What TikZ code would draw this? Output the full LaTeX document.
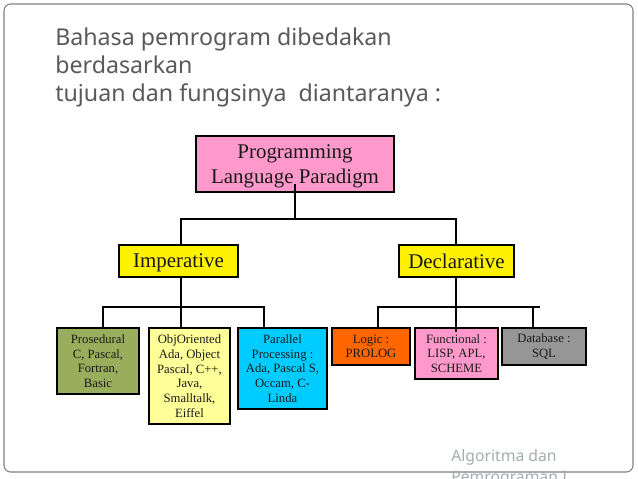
\documentclass[tikz,border=0pt]{standalone}
\usepackage{fontspec}
\setmainfont{Liberation Serif}
\newfontfamily\slidefont{Noto Sans}
\definecolor{slidegray}{HTML}{595959}
\definecolor{footgray}{HTML}{A3ADB0}
\definecolor{rootpink}{HTML}{FF99CC}
\definecolor{prosgreen}{HTML}{99AE5C}
\definecolor{objyellow}{HTML}{FFFF99}
\definecolor{parcyan}{HTML}{00CCFF}
\definecolor{logicorange}{HTML}{FF6600}
\definecolor{dbgray}{HTML}{969696}
\tikzset{
  paradigm/.style={draw=black, line width=1.5pt, inner sep=0pt, align=center, text=black!90},
  headbox/.style={paradigm, text depth=0pt, font=\fontsize{15.7}{18.5}\selectfont},
  leafbox/.style={paradigm, font=\fontsize{9.5}{11}\selectfont},
  link/.style={draw=black, line width=1.5pt},
  slidetext/.style={anchor=north west, inner sep=0pt, align=left}
}
\begin{document}
\begin{tikzpicture}[x=0.75pt, y=-0.75pt]
    \useasboundingbox (0, 0) rectangle (638, 478);
        \draw[gray, line width=0.8pt, rounded corners=5pt] (4, 4) rectangle (633, 472);
        \node[slidetext, text=slidegray, font=\slidefont\fontsize{17.4}{21}\selectfont] (title) at (55, 28)
            {Bahasa pemrogram dibedakan\\berdasarkan\\tujuan dan fungsinya\ \ diantaranya :};
        \node[slidetext, text=footgray, font=\slidefont\fontsize{11.8}{16}\selectfont] (foot) at (451, 449)
            {Algoritma dan\\Pemrograman I};
        %
        \node[headbox, fill=rootpink, minimum width=148.5pt, minimum height=42pt] (root) at (295, 164)
            {Programming\\Language Paradigm};
        \node[headbox, fill=yellow, minimum width=89.25pt, minimum height=24pt] (imper) at (178.5, 261) {Imperative};
        \node[headbox, fill=yellow, minimum width=86.25pt, minimum height=24pt] (decl) at (456.5, 261) {Declarative};
        %
        \node[leafbox, fill=prosgreen, minimum width=61.5pt, minimum height=49.5pt] (pros) at (98, 361)
            {Prosedural\\C, Pascal,\\Fortran,\\Basic};
        \node[leafbox, fill=objyellow, minimum width=60.75pt, minimum height=72pt] (objor) at (189.5, 376)
            {ObjOriented\\Ada, Object\\Pascal, C++,\\Java,\\Smalltalk,\\Eiffel};
        \node[leafbox, fill=parcyan, minimum width=66.75pt, minimum height=60.75pt] (par) at (282.5, 368.5)
            {Parallel\\Processing :\\Ada, Pascal S,\\Occam, C-\\Linda};
        \node[leafbox, fill=logicorange, minimum width=58.5pt, minimum height=27.75pt] (logic) at (371, 346.5)
            {Logic :\\PROLOG};
        \node[leafbox, fill=rootpink, minimum width=62.25pt, minimum height=38.25pt] (func) at (456.5, 353.5)
            {Functional :\\LISP, APL,\\SCHEME};
        \node[leafbox, fill=dbgray, minimum width=63pt, minimum height=27.75pt] (db) at (544, 346.5)
            {Database :\\SQL};
        %
        \coordinate (topL) at (181, 219);
        \coordinate (topR) at (456, 219);
        \coordinate (lowL) at (103, 307);
        \coordinate (lowM) at (181, 307);
        \coordinate (lowN) at (264, 307);
        \coordinate (lowP) at (378, 307);
        \coordinate (lowQ) at (456, 307);
        \coordinate (lowR) at (533, 307);
        \coordinate (lowE) at (540, 307);
        %
        \draw[link] ([yshift=6.5pt]root.south) -- (root.south |- topL);
        \draw[link] (topL |- imper.north) -- (topL) -- (topR) -- (topR |- decl.north);
        \draw[link] (lowM |- imper.south) -- (lowM |- objor.north);
        \draw[link] (lowL |- pros.north) -- (lowL) -- (lowN) -- (lowN |- par.north);
        \draw[link] (lowQ |- decl.south) -- ([yshift=-4pt]lowQ |- func.north);
        \draw[link] (lowP |- logic.north) -- (lowP) -- (lowE);
        \draw[link] (lowR) -- (lowR |- db.north);
    \end{tikzpicture}
\end{document}
